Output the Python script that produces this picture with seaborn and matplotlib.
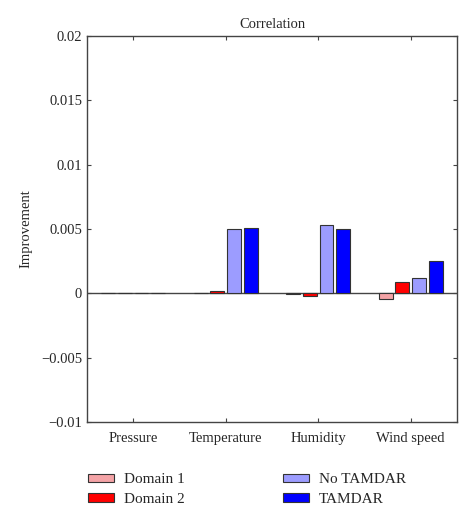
import pandas as pd
import numpy as np
import matplotlib
matplotlib.use("Agg")
import matplotlib.pyplot as plt
import seaborn as sns

variables = ["Pressure", "Temperature", "Humidity", "Wind speed"]
series = ["Domain 1", "Domain 2", "No TAMDAR", "TAMDAR"]
domain1 = [0.00001, 0.00002, -0.00005, -0.00045]
domain2 = [0.00001, 0.00015, -0.00025, 0.0009]
no_tamdar = [0.00001, 0.00496, 0.00527, 0.0012]
tamdar = [0.00001, 0.0051, 0.00503, 0.0025]
colors = ["#f4a3a6", "#ff0000", "#9c9cff", "#0000ff"]

df = pd.DataFrame({
    "variable": variables * 4,
    "series": np.repeat(series, 4),
    "value": domain1 + domain2 + no_tamdar + tamdar,
})

sns.set_style("ticks")
plt.rcParams["font.family"] = ["Liberation Serif", "DejaVu Serif"]
plt.rcParams["font.size"] = 10.5

fig = plt.figure(figsize=(4.74, 5.2), dpi=100)
ax = fig.add_axes([0.1835, 0.1885, 0.7805, 0.7425])

sns.barplot(data=df, x="variable", y="value", hue="series", order=variables,
            hue_order=series, palette=colors, saturation=1, width=0.72, gap=0.17,
            edgecolor="#333333", linewidth=0.8, errorbar=None, ax=ax)

ax.axhline(0, color="#444444", linewidth=1.0, zorder=0.5)
ax.set_xlim(-0.5, 3.5)
ax.set_ylim(-0.01, 0.02)
ax.set_yticks([-0.01, -0.005, 0, 0.005, 0.01, 0.015, 0.02])
ax.set_yticklabels(["\u22120.01", "\u22120.005", "0", "0.005", "0.01", "0.015", "0.02"])
ax.set_xlabel("")
ax.set_ylabel("Improvement", labelpad=6)
ax.set_title("Correlation", fontsize=10.5, pad=6)
ax.tick_params(direction="in", top=True, right=True, length=3, color="#444444", labelsize=10.5)
ax.tick_params(axis="x", pad=7)
for s in ax.spines.values():
    s.set_color("#444444")
    s.set_linewidth(1.0)

handles, labels = ax.get_legend_handles_labels()
ax.legend_.remove()
fig.legend(handles, labels, loc="lower left", bbox_to_anchor=(0.157, 0.0), ncol=2,
           frameon=False, handlelength=1.7, handleheight=0.5, handletextpad=0.65,
           columnspacing=6.4, labelspacing=0.45, fontsize=11)

fig.savefig("out.png", dpi=100)
